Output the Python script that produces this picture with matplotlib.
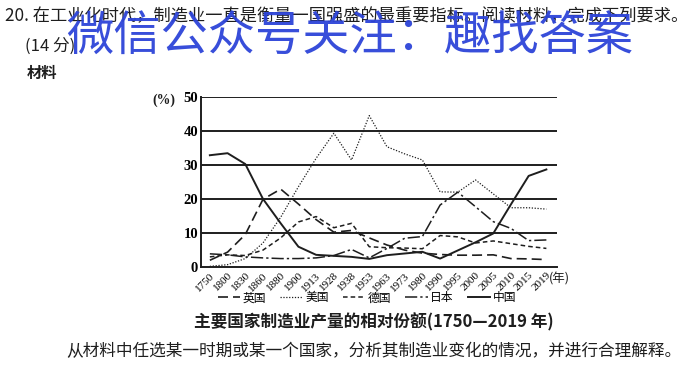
import matplotlib
matplotlib.use("Agg")
import matplotlib.pyplot as plt

plt.rcParams['font.family'] = ['Noto Sans CJK SC', 'DejaVu Sans']

# data
years = ['1750', '1800', '1830', '1860', '1880', '1900', '1913', '1928', '1938', '1953',
         '1963', '1973', '1980', '1990', '1995', '2000', '2005', '2010', '2015', '2019']
uk = [1.9, 4.3, 9.5, 19.9, 22.9, 18.5, 13.9, 10.2, 10.7, 8.5,
      6.4, 4.9, 4.0, 3.6, 3.4, 3.4, 3.5, 2.4, 2.3, 2.1]
us = [0.1, 0.6, 2.4, 7.0, 14.6, 23.6, 32.0, 39.4, 31.5, 44.6,
      35.4, 33.3, 31.5, 22.1, 22.0, 25.6, 21.5, 17.4, 17.4, 17.0]
de = [2.9, 3.5, 3.3, 4.9, 8.5, 13.2, 14.8, 11.5, 12.8, 5.9,
      5.6, 5.5, 5.3, 9.2, 8.8, 7.0, 7.6, 6.8, 6.0, 5.4]
jp = [3.8, 3.5, 2.9, 2.6, 2.4, 2.4, 2.6, 3.3, 5.1, 2.6,
      5.4, 8.4, 8.9, 18.2, 22.0, 17.7, 13.3, 11.3, 7.7, 7.9]
cn = [32.9, 33.5, 30.3, 20.0, 12.8, 5.9, 3.5, 3.2, 2.9, 2.3,
      3.4, 3.9, 4.4, 2.4, 4.8, 7.2, 9.8, 18.4, 26.8, 28.7]
names = ['英国', '美国', '德国', '日本', '中国']
yticks = [0, 10, 20, 30, 40, 50]

ink = '#1e1e1e'
serif = 'Liberation Serif'

fig = plt.figure(figsize=(7, 3.75), dpi=100)
fig.patch.set_facecolor('white')

ax = fig.add_axes([201/700, 1-266.7/375, 356/700, 169.4/375])
x = range(len(years))
styles = [
    dict(ls=(0, (6, 3)), lw=1.2),          # UK
    dict(ls=(0, (1, 1.3)), lw=0.9),        # US
    dict(ls=(0, (3, 2)), lw=1.1),          # Germany
    dict(ls=(0, (8, 2, 1.5, 2)), lw=1.1),  # Japan
    dict(ls='-', lw=1.4),                  # China
]
handles = []
for vals, st, nm in zip([uk, us, de, jp, cn], styles, names):
    ln, = ax.plot(x, vals, color=ink, **st, label=nm)
    handles.append(ln)

ax.set_xlim(-0.5, 19.6)
ax.set_ylim(0, 50)
ax.set_yticks(yticks)
ax.set_yticklabels([str(v) for v in yticks], fontfamily=serif, fontweight='bold', fontsize=10.5)
ax.set_xticks(list(x))
ax.set_xticklabels(years, rotation=45, ha='right', va='top', rotation_mode='anchor',
                   fontfamily=serif, fontsize=8)
ax.tick_params(length=0, pad=2)
ax.tick_params(axis='x', pad=3)
for v in yticks[1:]:
    ax.axhline(v, color=ink, lw=1.4, zorder=0)
for s in ['top', 'right']:
    ax.spines[s].set_visible(False)
for s in ['left', 'bottom']:
    ax.spines[s].set_linewidth(1.4)
    ax.spines[s].set_color(ink)

fig.text(152/700, 1-100/375, '(%)', fontfamily=serif, fontweight='bold', fontsize=10,
         ha='left', va='center', color=ink)
fig.text(549/700, 1-279/375, '(年)', fontsize=9, ha='left', va='center', color=ink)

fig.legend(handles=handles, loc='center', bbox_to_anchor=(367/700, 1-298/375), ncol=5,
           frameon=False, handlelength=1.9, handletextpad=0.2, columnspacing=1.2,
           borderpad=0, prop={'family': 'Noto Sans CJK SC', 'size': 8.5})

fig.text(374/700, 1-322/375, '主要国家制造业产量的相对份额(1750—2019 年)', fontsize=12,
         fontweight='bold', ha='center', va='center', color=ink)
fig.text(374/700, 1-352/375, '从材料中任选某一时期或某一个国家，分析其制造业变化的情况，并进行合理解释。',
         fontsize=12, ha='center', va='center', color=ink)

fig.text(5/700, 1-16/375, '20. 在工业化时代，制造业一直是衡量一国强盛的最重要指标。阅读材料，完成下列要求。',
         fontsize=12.4, ha='left', va='center', color=ink)
fig.text(25/700, 1-46/375, '(14 分)', fontsize=12, ha='left', va='center', color=ink)
fig.text(27/700, 1-73/375, '材料', fontsize=11, fontweight='bold', ha='left', va='center', color=ink)

# blue watermark over the question text
fig.text(350/700, 1-38/375, '微信公众号关注：趣找答案', fontsize=34, ha='center', va='center',
         color='#2d44d8', alpha=0.95)

fig.savefig('out.png', dpi=100)
